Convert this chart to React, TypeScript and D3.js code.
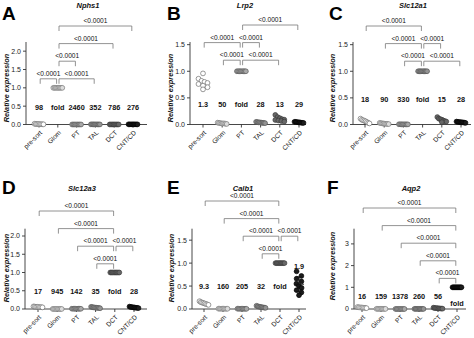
import React from 'react';
import * as d3 from 'd3';

const categories = ['pre-sort', 'Glom', 'PT', 'TAL', 'DCT', 'CNT/CD'];
const panelLetters = ['A', 'B', 'C', 'D', 'E', 'F'];
const geneNames = ['Nphs1', 'Lrp2', 'Slc12a1', 'Slc12a3', 'Calb1', 'Aqp2'];
const yMax = [2.25, 1.55, 1.55, 2.2, 1.75, 3.7];
const yTicks = [
  [0, 0.5, 1, 1.5, 2],
  [0, 0.5, 1, 1.5],
  [0, 0.5, 1, 1.5],
  [0, 0.5, 1, 1.5, 2],
  [0, 0.5, 1, 1.5],
  [0, 1, 2, 3],
];
const yTickFormats = ['.1f', '.1f', '.1f', '.1f', '.1f', 'd'];
const foldLabels = [
  ['98', 'fold', '2460', '352', '786', '276'],
  ['1.3', '50', 'fold', '28', '13', '29'],
  ['18', '90', '330', 'fold', '15', '28'],
  ['17', '945', '142', '35', 'fold', '28'],
  ['9.3', '160', '205', '32', 'fold', '1.9'],
  ['16', '159', '1378', '260', '56', 'fold'],
];
const pValueText = '<0.0001';

// [from, to, level]
const bracketsA: [string, string, number][] = [
  ['Glom', 'CNT/CD', 0], ['Glom', 'DCT', 1], ['Glom', 'PT', 2], ['pre-sort', 'Glom', 3], ['Glom', 'TAL', 3],
];
const bracketsB: [string, string, number][] = [
  ['PT', 'CNT/CD', 0], ['pre-sort', 'PT', 1], ['PT', 'TAL', 1], ['Glom', 'PT', 2], ['PT', 'DCT', 2],
];
const bracketsC: [string, string, number][] = [
  ['pre-sort', 'TAL', 0], ['Glom', 'TAL', 1], ['TAL', 'DCT', 1], ['PT', 'TAL', 2], ['TAL', 'CNT/CD', 2],
];
const bracketsD: [string, string, number][] = [
  ['pre-sort', 'DCT', 0], ['Glom', 'DCT', 1], ['PT', 'DCT', 2], ['DCT', 'CNT/CD', 2], ['TAL', 'DCT', 3],
];
const bracketsE: [string, string, number][] = [
  ['pre-sort', 'DCT', 0], ['Glom', 'DCT', 1], ['PT', 'DCT', 2], ['DCT', 'CNT/CD', 2], ['TAL', 'DCT', 3],
];
const bracketsF: [string, string, number][] = [
  ['pre-sort', 'CNT/CD', 0], ['Glom', 'CNT/CD', 1], ['PT', 'CNT/CD', 2], ['TAL', 'CNT/CD', 3], ['DCT', 'CNT/CD', 4],
];

// values per category: pre-sort, Glom, PT, TAL, DCT, CNT/CD
const nphs1 = [
  [0.012, 0.008, 0.015, 0.005, 0.02, 0.01, 0.006, 0.011],
  [1, 1, 1, 1, 1, 1, 1, 1],
  [0.0004, 0.0005, 0.0003, 0.0004, 0.0006, 0.0004, 0.0005, 0.0003],
  [0.003, 0.002, 0.004, 0.003, 0.002, 0.003, 0.004, 0.003],
  [0.001, 0.0013, 0.0012, 0.0014, 0.001, 0.0013, 0.0011, 0.0012],
  [0.004, 0.003, 0.004, 0.005, 0.004, 0.003, 0.004, 0.004],
];
const lrp2 = [
  [0.96, 0.86, 0.82, 0.8, 0.78, 0.76, 0.73, 0.7, 0.66],
  [0.02, 0.03, 0.01, 0.035, 0.02, 0.025, 0.015, 0.02],
  [1, 1, 1, 1, 1, 1, 1, 1],
  [0.03, 0.04, 0.05, 0.025, 0.04, 0.035, 0.045, 0.03],
  [0.18, 0.14, 0.12, 0.1, 0.085, 0.075, 0.065, 0.055, 0.09],
  [0.05, 0.04, 0.03, 0.045, 0.035, 0.05, 0.04, 0.03],
];
const slc12a1 = [
  [0.11, 0.09, 0.07, 0.06, 0.045, 0.03, 0.08, 0.02],
  [0.02, 0.012, 0.03, 0.01, 0.018, 0.008, 0.025, 0.015],
  [0.003, 0.002, 0.004, 0.003, 0.002, 0.003, 0.004, 0.003],
  [1, 1, 1, 1, 1, 1, 1, 1],
  [0.14, 0.11, 0.09, 0.075, 0.065, 0.055, 0.1, 0.045],
  [0.055, 0.045, 0.035, 0.05, 0.04, 0.03, 0.045, 0.04],
];
const slc12a3 = [
  [0.07, 0.06, 0.05, 0.065, 0.045, 0.055, 0.06, 0.05],
  [0.001, 0.0012, 0.0009, 0.001, 0.0011, 0.001, 0.0012, 0.0009],
  [0.007, 0.006, 0.008, 0.007, 0.006, 0.007, 0.008, 0.007],
  [0.06, 0.045, 0.03, 0.05, 0.02, 0.035, 0.04, 0.03],
  [1, 1, 1, 1, 1, 1, 1, 1],
  [0.065, 0.045, 0.03, 0.055, 0.025, 0.035, 0.04, 0.05],
];
const calb1 = [
  [0.17, 0.14, 0.12, 0.1, 0.13, 0.15, 0.09, 0.11],
  [0.006, 0.005, 0.007, 0.006, 0.005, 0.006, 0.007, 0.006],
  [0.005, 0.004, 0.006, 0.005, 0.004, 0.005, 0.006, 0.005],
  [0.07, 0.05, 0.035, 0.06, 0.025, 0.04, 0.045, 0.03],
  [1, 1, 1, 1, 1, 1, 1, 1],
  [0.82, 0.72, 0.66, 0.6, 0.55, 0.5, 0.46, 0.41, 0.36, 0.3],
];
const aqp2 = [
  [0.09, 0.07, 0.06, 0.05, 0.08, 0.06, 0.07, 0.04],
  [0.006, 0.007, 0.005, 0.006, 0.007, 0.006, 0.005, 0.006],
  [0.0007, 0.0008, 0.0006, 0.0007, 0.0008, 0.0007, 0.0006, 0.0007],
  [0.004, 0.003, 0.005, 0.004, 0.003, 0.004, 0.005, 0.004],
  [0.06, 0.035, 0.025, 0.045, 0.015, 0.03, 0.04, 0.02],
  [1, 1, 1, 1, 1, 1, 1, 1, 1, 1],
];

const panelData = [nphs1, lrp2, slc12a1, slc12a3, calb1, aqp2];
const panelBrackets = [bracketsA, bracketsB, bracketsC, bracketsD, bracketsE, bracketsF];

const fills = ['#ffffff', '#dcdcdc', '#a8a8a8', '#939393', '#686868', '#1c1c1c'];
const strokes = ['#6e6e6e', '#7a7a7a', '#5a5a5a', '#555555', '#383838', '#000000'];

const layouts = [
  { axisX: 26, x0: 39, x1: 133, xEnd: 147, y0: 124.5, yTop: 42, letterX: 2, letterY: 20, titleX: 88, titleY: 8, labelX: 6, labelCy: 88, numY: 107, bracketTop: 26, numOverride: {} as Record<number, number> },
  { axisX: 190, x0: 203, x1: 299, xEnd: 306, y0: 124.5, yTop: 42, letterX: 167, letterY: 20, titleX: 245, titleY: 8, labelX: 170, labelCy: 88, numY: 104, bracketTop: 25, numOverride: {} },
  { axisX: 353, x0: 365, x1: 461, xEnd: 471, y0: 124.5, yTop: 42, letterX: 329, letterY: 20, titleX: 413, titleY: 8, labelX: 332, labelCy: 88, numY: 99, bracketTop: 26, numOverride: {} },
  { axisX: 25, x0: 38, x1: 134, xEnd: 147, y0: 309, yTop: 228.7, letterX: 2, letterY: 194, titleX: 82, titleY: 191, labelX: 6, labelCy: 268, numY: 291, bracketTop: 211, numOverride: {} },
  { axisX: 192, x0: 204, x1: 299, xEnd: 306, y0: 309, yTop: 228.7, letterX: 167, letterY: 194, titleX: 243, titleY: 191, labelX: 171, labelCy: 268, numY: 286, bracketTop: 201, numOverride: { 5: 266 } },
  { axisX: 354, x0: 362, x1: 457, xEnd: 466, y0: 309, yTop: 228.7, letterX: 327, letterY: 194, titleX: 411, titleY: 191, labelX: 332, labelCy: 266, numY: 296, bracketTop: 208, numOverride: { 5: 303 } },
];

const FONT = "'Liberation Sans', Arial, sans-serif";
const R = 2.4;

function swarm(values: number[], y: (v: number) => number, r: number, maxHalf: number) {
  const pts = values.map((v) => ({ v, py: y(v) })).sort((a, b) => a.py - b.py);
  const out: { py: number; dx: number }[] = [];
  let i = 0;
  while (i < pts.length) {
    let j = i;
    while (j < pts.length && pts[j].py - pts[i].py < r * 2) j++;
    const n = j - i;
    const step = n > 1 ? Math.min(2 * r, (2 * maxHalf) / (n - 1)) : 0;
    for (let k = 0; k < n; k++) {
      out.push({ py: pts[i + k].py, dx: (k - (n - 1) / 2) * step });
    }
    i = j;
  }
  return out;
}

function Panel({ idx }: { idx: number }) {
  const L = layouts[idx];
  const data = panelData[idx];
  const x = d3.scalePoint<string>().domain(categories).range([L.x0, L.x1]);
  const y = d3.scaleLinear().domain([0, yMax[idx]]).range([L.y0, L.yTop]);
  const fmt = d3.format(yTickFormats[idx]);
  const bracketStep = 17.6;

  return (
    <g>
      <text x={L.letterX} y={L.letterY} fontFamily={FONT} fontWeight="bold" fontSize={19} fill="#000">
        {panelLetters[idx]}
      </text>
      <text x={L.titleX} y={L.titleY} fontFamily={FONT} fontWeight="bold" fontStyle="italic" fontSize={7.5} textAnchor="middle" fill="#111">
        {geneNames[idx]}
      </text>
      <text
        transform={`translate(${L.labelX},${L.labelCy}) rotate(-90)`}
        fontFamily={FONT} fontWeight="bold" fontStyle="italic" fontSize={7.3} textAnchor="middle" dy="0.35em" fill="#111"
      >
        Relative expression
      </text>
      {/* y axis */}
      <line x1={L.axisX} x2={L.axisX} y1={L.y0} y2={y(yMax[idx])} stroke="#333" strokeWidth={0.9} />
      {yTicks[idx].map((t) => (
        <g key={t}>
          <line x1={L.axisX - 3} x2={L.axisX} y1={y(t)} y2={y(t)} stroke="#333" strokeWidth={0.9} />
          <text x={L.axisX - 5} y={y(t)} dy="0.35em" textAnchor="end" fontFamily={FONT} fontSize={7} fill="#222">
            {fmt(t)}
          </text>
        </g>
      ))}
      {/* x axis */}
      <line x1={L.axisX} x2={L.xEnd} y1={L.y0} y2={L.y0} stroke="#333" strokeWidth={0.9} />
      {categories.map((c) => (
        <g key={c}>
          <line x1={x(c)!} x2={x(c)!} y1={L.y0} y2={L.y0 + 3} stroke="#333" strokeWidth={0.9} />
          <text
            transform={`translate(${x(c)! + 2},${L.y0 + 7}) rotate(-45)`}
            textAnchor="end" dy="0.35em" fontFamily={FONT} fontSize={6.6} fill="#222"
          >
            {c}
          </text>
        </g>
      ))}
      {/* points + error bars */}
      {data.map((vals, ci) => {
        const cx = x(categories[ci])!;
        const m = d3.mean(vals)!;
        const sd = d3.deviation(vals) || 0;
        const pts = swarm(vals, y, R, ci === 5 && idx === 4 ? 2.6 : 4.5);
        return (
          <g key={ci}>
            {pts.map((p, k) => (
              <circle key={k} cx={cx + p.dx} cy={p.py} r={R} fill={fills[ci]} stroke={strokes[ci]} strokeWidth={0.7} />
            ))}
            {sd > 0.12 && (
              <g stroke="#111" strokeWidth={0.8}>
                <line x1={cx} x2={cx} y1={y(m - sd)} y2={y(m + sd)} />
                <line x1={cx - 3} x2={cx + 3} y1={y(m - sd)} y2={y(m - sd)} />
                <line x1={cx - 3} x2={cx + 3} y1={y(m + sd)} y2={y(m + sd)} />
                <line x1={cx - 5} x2={cx + 5} y1={y(m)} y2={y(m)} />
              </g>
            )}
          </g>
        );
      })}
      {/* fold labels */}
      {foldLabels[idx].map((t, ci) => (
        <text
          key={ci}
          x={x(categories[ci])!}
          y={(L.numOverride as Record<number, number>)[ci] ?? L.numY}
          dy="0.35em" textAnchor="middle" fontFamily={FONT} fontWeight="bold" fontSize={7.3} fill="#111"
        >
          {t}
        </text>
      ))}
      {/* brackets */}
      {panelBrackets[idx].map(([a, b, lvl], k) => {
        const xa = x(a)! + 1.2;
        const xb = x(b)! - 1.2;
        const by = L.bracketTop + lvl * bracketStep;
        return (
          <g key={k}>
            <path d={`M${xa},${by + 5}V${by}H${xb}V${by + 5}`} fill="none" stroke="#777" strokeWidth={0.8} />
            <text x={(xa + xb) / 2} y={by - 3} textAnchor="middle" fontFamily={FONT} fontSize={6.6} fill="#111">
              {pValueText}
            </text>
          </g>
        );
      })}
    </g>
  );
}

export default function App() {
  return (
    <svg width={474} height={338} style={{ position: 'absolute', left: 0, top: 0, background: '#fff' }}>
      <rect width={474} height={338} fill="#fff" />
      {layouts.map((_, i) => (
        <Panel key={i} idx={i} />
      ))}
    </svg>
  );
}
